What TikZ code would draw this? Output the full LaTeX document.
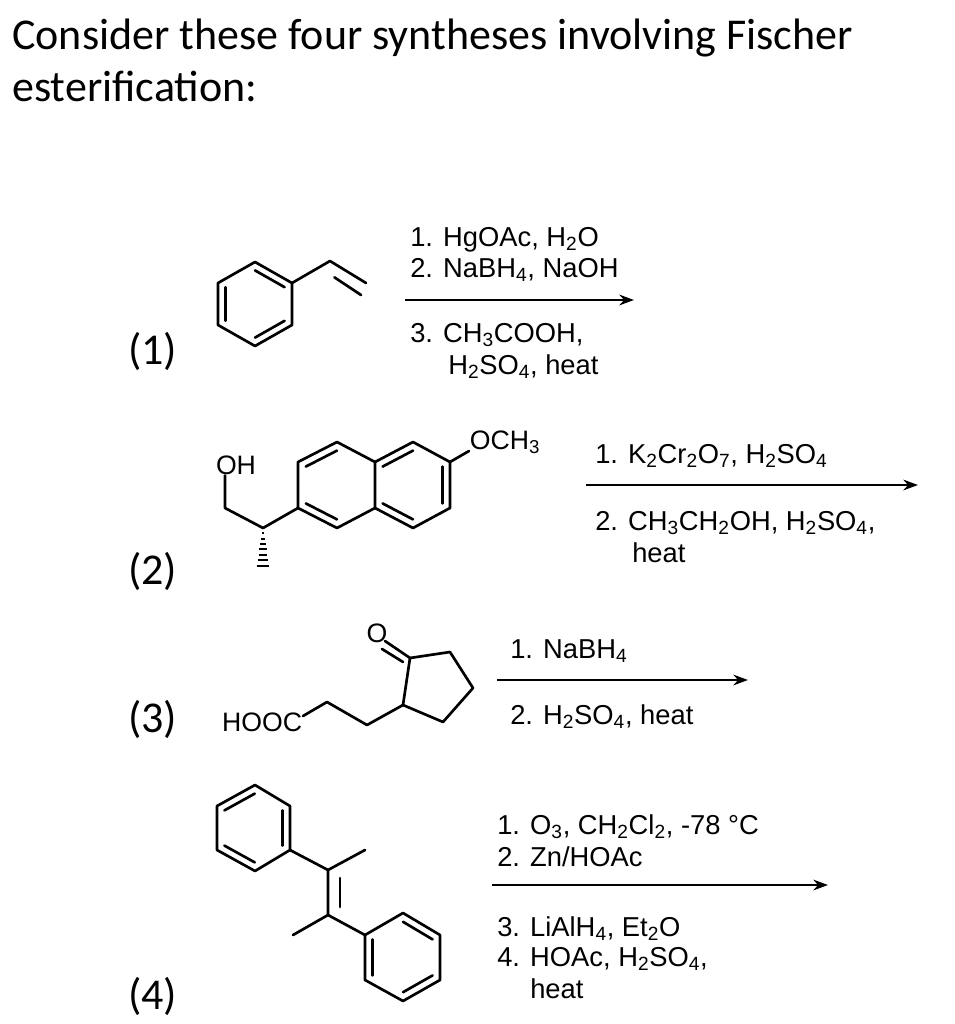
\documentclass[tikz,border=0pt]{standalone}
\usepackage{fontspec}
\setmainfont{Carlito}
\newfontfamily\rxf{Liberation Sans}
\usetikzlibrary{calc,arrows.meta}
\begin{document}
\begin{tikzpicture}[x=0.75pt,y=-0.75pt,
  bond/.style={line width=2pt,line cap=round,line join=round},
  rxarrow/.style={line width=1.8pt,-{Stealth[length=11pt,width=8pt]}},
  rx/.style={font=\rxf\fontsize{20.5}{22}\selectfont,anchor=base west,inner sep=0pt},
  lab/.style={font=\fontsize{33}{36}\selectfont,anchor=base west,inner sep=0pt},
  atom/.style={font=\rxf\fontsize{20}{22}\selectfont,inner sep=0.5pt}]
\newcommand{\inb}[3]{\draw[bond] ($(#1)!0.2!(#3)$) -- ($(#2)!0.2!(#3)$);}
\useasboundingbox (0,0) rectangle (954,1024);
\fill[white] (0,0) rectangle (954,1024);
% title
\node[lab] (t1) at (12,50) {Consider these four syntheses involving Fischer};
\node[lab] (t2) at (12,102) {esterification:};
\node[lab] (l1) at (128,364) {(1)};
\node[lab] (l2) at (128,584) {(2)};
\node[lab] (l3) at (128,732) {(3)};
\node[lab] (l4) at (128,1009) {(4)};
% ---------- molecule 1
\coordinate (a1) at (255,262); \coordinate (a2) at (292,283); \coordinate (a3) at (292,325);
\coordinate (a4) at (255,346); \coordinate (a5) at (218,325); \coordinate (a6) at (218,283);
\coordinate (ac) at (255,304);
\draw[bond] (a1)--(a2)--(a3)--(a4)--(a5)--(a6)--cycle;
\inb{a1}{a2}{ac} \inb{a6}{a5}{ac} \inb{a3}{a4}{ac}
\coordinate (v1) at (330,261); \coordinate (v2) at (366,283);
\draw[bond] (a2)--(v1)--(v2);
\draw[bond] ($(v1)!0.15!(v2)+(-1,13)$) -- ($(v2)+(-5,12)$);
% arrow 1
\coordinate (r1s) at (405,300); \coordinate (r1e) at (634,300);
\draw[rxarrow] (r1s) -- (r1e);
\node[rx] (x11) at (410,246) {1. HgOAc, H\textsubscript{2}O};
\node[rx] (x12) at (410,277) {2. NaBH\textsubscript{4}, NaOH};
\node[rx] (x13) at (410,342) {3. CH\textsubscript{3}COOH,};
\node[rx] (x14) at (448,374) {H\textsubscript{2}SO\textsubscript{4}, heat};
% ---------- molecule 2
\node[atom] (oh) at (236,465) {OH};
\coordinate (b0) at (225,508); \coordinate (bc) at (263,528); \coordinate (bm) at (263,570);
\draw[bond] (oh.south -| b0) -- (b0) -- (bc);
\foreach \t in {0.12,0.25,...,1.0} {
  \draw[line width=1.5pt] ($(bc)!\t!(bm)+(-7*\t,0)$) -- ($(bc)!\t!(bm)+(7*\t,0)$);}
\coordinate (n1) at (298,508); \coordinate (n2) at (298,462); \coordinate (n3) at (337,442);
\coordinate (n4) at (375,462); \coordinate (n5) at (375,508); \coordinate (n6) at (337,528);
\coordinate (n7) at (413,442); \coordinate (n8) at (450,462); \coordinate (n9) at (450,508);
\coordinate (n10) at (413,528);
\coordinate (nl) at (337,485); \coordinate (nr) at (413,485);
\draw[bond] (bc)--(n1);
\draw[bond] (n1)--(n2)--(n3)--(n4)--(n5)--(n6)--cycle;
\draw[bond] (n4)--(n7)--(n8)--(n9)--(n10)--(n5);
\inb{n2}{n3}{nl} \inb{n1}{n6}{nl} \inb{n4}{n7}{nr} \inb{n8}{n9}{nr} \inb{n5}{n10}{nr}
\node[atom,anchor=west] (och) at (469,442) {OCH\textsubscript{3}};
\draw[bond] (n8) -- (och.west |- 0,451);
% arrow 2
\coordinate (r2s) at (586,485); \coordinate (r2e) at (918,485);
\draw[rxarrow] (r2s) -- (r2e);
\node[rx] (x21) at (595,463) {1. K\textsubscript{2}Cr\textsubscript{2}O\textsubscript{7}, H\textsubscript{2}SO\textsubscript{4}};
\node[rx] (x22) at (595,530) {2. CH\textsubscript{3}CH\textsubscript{2}OH, H\textsubscript{2}SO\textsubscript{4},};
\node[rx] (x23) at (632,562) {heat};
% ---------- molecule 3
\node[atom,anchor=east] (hooc) at (303,722) {HOOC};
\coordinate (c1) at (327,702); \coordinate (c2) at (367,725); \coordinate (p1) at (403,705);
\coordinate (p2) at (410,658); \coordinate (p3) at (450,652); \coordinate (p4) at (473,688);
\coordinate (p5) at (443,722);
\draw[bond] (hooc.east |- 0,716) -- (c1) -- (c2) -- (p1);
\draw[bond] (p1) -- (p2) -- (p3) -- (p4) -- (p5) -- cycle;
\node[atom] (o3) at (377,633) {O};
\draw[bond] (p2) -- ($(o3)+(8,8)$);
\draw[bond] ($(p2)+(-7,4)$) -- ($(o3)+(5,16)$);
% arrow 3
\coordinate (r3s) at (497,680); \coordinate (r3e) at (748,680);
\draw[rxarrow] (r3s) -- (r3e);
\node[rx] (x31) at (510,658) {1. NaBH\textsubscript{4}};
\node[rx] (x32) at (510,724) {2. H\textsubscript{2}SO\textsubscript{4}, heat};
% ---------- molecule 4
\coordinate (d1) at (255,785); \coordinate (d2) at (290,806); \coordinate (d3) at (290,850);
\coordinate (d4) at (255,871); \coordinate (d5) at (217,850); \coordinate (d6) at (217,806);
\coordinate (dc) at (254,828);
\draw[bond] (d1)--(d2)--(d3)--(d4)--(d5)--(d6)--cycle;
\inb{d2}{d3}{dc} \inb{d5}{d4}{dc} \inb{d6}{d1}{dc}
\coordinate (e1) at (328,870); \coordinate (m1) at (365,850);
\coordinate (e2) at (328,915); \coordinate (m2) at (293,935);
\draw[bond] (d3)--(e1)--(m1); \draw[bond] (e1)--(e2)--(m2);
\draw[bond] ($(e1)+(12,8)$) -- ($(e2)+(12,-8)$);
\coordinate (f1) at (365,935); \coordinate (f2) at (403,913); \coordinate (f3) at (440,935);
\coordinate (f4) at (440,980); \coordinate (f5) at (403,1001); \coordinate (f6) at (365,980);
\coordinate (fc) at (403,957);
\draw[bond] (e2)--(f1);
\draw[bond] (f1)--(f2)--(f3)--(f4)--(f5)--(f6)--cycle;
\inb{f2}{f3}{fc} \inb{f1}{f6}{fc} \inb{f4}{f5}{fc}
% arrow 4
\coordinate (r4s) at (492,885); \coordinate (r4e) at (828,885);
\draw[rxarrow] (r4s) -- (r4e);
\node[rx] (x41) at (497,834) {1. O\textsubscript{3}, CH\textsubscript{2}Cl\textsubscript{2}, -78 \textdegree C};
\node[rx] (x42) at (497,866) {2. Zn/HOAc};
\node[rx] (x43) at (497,936) {3. LiAlH\textsubscript{4}, Et\textsubscript{2}O};
\node[rx] (x44) at (497,966) {4. HOAc, H\textsubscript{2}SO\textsubscript{4},};
\node[rx] (x45) at (530,998) {heat};
\end{tikzpicture}
\end{document}
